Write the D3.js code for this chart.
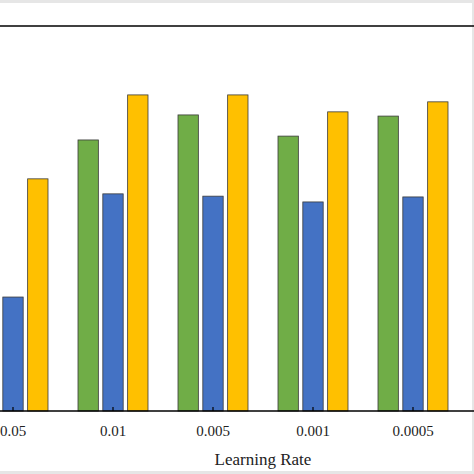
<!DOCTYPE html>
<html>
<head>
<meta charset="utf-8" />
<script src="https://cdn.jsdelivr.net/npm/d3@7"></script>
<style>
  body { margin: 0; background: #fff; }
  text { font-family: "Liberation Serif", "Times New Roman", serif; }
</style>
</head>
<body>
<div id="graph"></div>
<script>
  var rates = ["0.05", "0.01", "0.005", "0.001", "0.0005"];
  var series = ["green", "blue", "yellow"];
  var greenVals  = [40.0, 70.4, 76.9, 71.4, 76.6];
  var blueVals   = [29.6, 56.4, 55.8, 54.3, 55.6];
  var yellowVals = [60.3, 82.1, 82.1, 77.7, 80.3];
  var colours = {green: "#70ad47", blue: "#4472c4", yellow: "#ffc000"};

  var w = 474, h = 474;
  var svg = d3.select("#graph").append("svg").attr("width", w).attr("height", h);

  // light grey border of the cropped picture
  svg.append("rect").attr("x", 0).attr("y", 0).attr("width", w).attr("height", h).attr("fill", "#e6e6e6");
  svg.append("rect").attr("x", 0).attr("y", 3).attr("width", w - 2).attr("height", h - 6).attr("fill", "#fff");

  var x = d3.scaleBand().domain(rates).range([-37, 463]).padding(0);
  var xs = d3.scaleBand().domain(series).range([-35, 35]).paddingInner(0.18);
  var y = d3.scaleLinear().domain([0, 100]).range([411, 26]);

  var rows = rates.map(function(r, i) {
    return {rate: r, green: greenVals[i], blue: blueVals[i], yellow: yellowVals[i]};
  });

  // top frame
  svg.append("line").attr("x1", 0).attr("x2", w).attr("y1", y(100)).attr("y2", y(100))
    .attr("stroke", "#000").attr("stroke-width", 1.5);

  var g = svg.selectAll(".grp").data(rows).enter().append("g")
    .attr("transform", function(d) { return "translate(" + (x(d.rate) + x.bandwidth() / 2) + ",0)"; });

  g.selectAll("rect").data(function(d) { return series.map(function(s) { return {s: s, v: d[s]}; }); })
    .enter().append("rect")
    .attr("x", function(d) { return xs(d.s); })
    .attr("width", xs.bandwidth())
    .attr("y", function(d) { return y(d.v); })
    .attr("height", function(d) { return y(0) - y(d.v); })
    .attr("fill", function(d) { return colours[d.s]; })
    .attr("stroke", "#3a3a3a").attr("stroke-width", 0.8);

  var axis = d3.axisBottom(x).tickSize(-4).tickPadding(14);
  var ax = svg.append("g").attr("transform", "translate(0," + y(0) + ")").call(axis);
  ax.select(".domain").remove();
  ax.append("line").attr("x1", 0).attr("x2", w).attr("stroke", "#000").attr("stroke-width", 1.5);
  ax.selectAll(".tick line").attr("stroke", "#000").attr("stroke-width", 1.2);
  ax.selectAll(".tick text").attr("font-size", 15).attr("fill", "#222")
    .style("font-family", "Liberation Serif, serif");

  svg.append("text").attr("x", 263).attr("y", 465).attr("text-anchor", "middle")
    .attr("font-size", 17).attr("fill", "#222").text("Learning Rate");
</script>
</body>
</html>
